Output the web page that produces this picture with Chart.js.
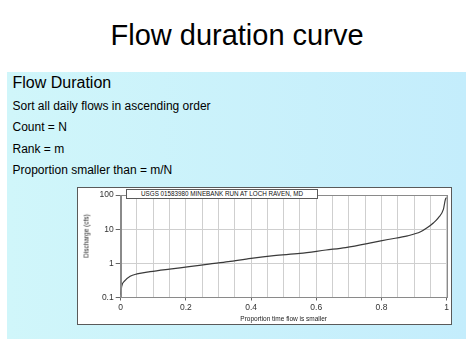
<!DOCTYPE html>
<html>
<head>
<meta charset="utf-8">
<script src="https://cdn.jsdelivr.net/npm/chart.js@4.4.1/dist/chart.umd.min.js"></script>
<style>
  html, body { margin:0; padding:0; background:#ffffff; width:474px; height:355px; overflow:hidden; font-family:"Liberation Sans", Arial, sans-serif; }
  .abs { position:absolute; white-space:nowrap; color:#000; }
  #title { left:0; width:474px; text-align:center; top:21px; font-size:29px; line-height:29px; }
  #panel { position:absolute; left:7px; top:72px; width:459px; height:267px; background:linear-gradient(to right, #d0f6fa, #c4edfc); }
  .t12 { font-size:12px; line-height:12px; left:12.5px; }
  #h16 { font-size:16px; line-height:16px; left:12.5px; top:74.8px; }
  #box { position:absolute; left:77px; top:187px; width:375px; height:138px; box-sizing:border-box; border:1px solid #5a5a5a; background:#fff; }
  #cv { position:absolute; left:0; top:0; }
  #ctitle { position:absolute; left:126px; top:189px; width:192px; height:10px; box-sizing:border-box; border:1px solid #5a5a5a; background:#fff; font-size:6.3px; line-height:8px; text-align:center; color:#111; white-space:nowrap; }
  #ytitle { position:absolute; left:86px; top:235.5px; font-size:6.5px; line-height:7px; color:#222; white-space:nowrap; transform:translate(-50%,-50%) rotate(-90deg); }
</style>
</head>
<body>
<div class="abs" id="title">Flow duration curve</div>
<div id="panel"></div>
<div class="abs" id="h16">Flow Duration</div>
<div class="abs t12" style="top:99.8px">Sort all daily flows in ascending order</div>
<div class="abs t12" style="top:121.4px">Count = N</div>
<div class="abs t12" style="top:142.5px">Rank = m</div>
<div class="abs t12" style="top:163.8px">Proportion smaller than = m/N</div>
<div id="box"><canvas id="cv" width="373" height="136"></canvas></div>
<div id="ctitle">USGS 01583980 MINEBANK RUN AT LOCH RAVEN, MD</div>
<div id="ytitle">Discharge (cfs)</div>
<script>
// Data
const proportion = [0, 0.003, 0.013, 0.029, 0.05, 0.09, 0.15, 0.21, 0.27, 0.33, 0.40, 0.47, 0.55, 0.63, 0.69, 0.775, 0.82, 0.88, 0.92, 0.94, 0.96, 0.975, 0.99, 0.996, 1.0];
const discharge  = [0.12, 0.21, 0.31, 0.42, 0.49, 0.57, 0.68, 0.80, 0.95, 1.12, 1.4, 1.68, 1.96, 2.46, 2.9, 4.1, 5.0, 6.4, 8.4, 11, 15.5, 22, 38, 74, 85];
const yTickValues = [0.1, 1, 10, 100];
const yTickLabels = ['0.1', '1', '10', '100'];
const xTickLabels = ['0', '0.2', '0.4', '0.6', '0.8', '1'];
const xAxisTitle = 'Proportion time flow is smaller';

Chart.defaults.font.family = '"Liberation Sans", Arial, sans-serif';
Chart.defaults.color = '#333';

const points = proportion.map((p, i) => ({ x: p, y: discharge[i] }));
const isMajorX = v => Math.abs(v * 5 - Math.round(v * 5)) < 1e-6;

const frame = {
  id: 'frame',
  afterDatasetsDraw(chart) {
    const a = chart.chartArea, c = chart.ctx;
    c.save();
    c.strokeStyle = '#8a8a8a';
    c.lineWidth = 1;
    c.strokeRect(Math.round(a.left) + 0.5, Math.round(a.top) + 0.5, Math.round(a.right - a.left), Math.round(a.bottom - a.top));
    c.restore();
  }
};

new Chart(document.getElementById('cv'), {
  type: 'line',
  data: { datasets: [{ data: points, borderColor: '#3a3a3a', borderWidth: 1.2, pointRadius: 0, fill: false, cubicInterpolationMode: 'monotone' }] },
  options: {
    responsive: false, animation: false, devicePixelRatio: 1,
    layout: { padding: { top: 6, right: 4, left: 0, bottom: 0 } },
    plugins: { legend: { display: false }, tooltip: { enabled: false } },
    scales: {
      x: {
        type: 'linear', min: 0, max: 1,
        afterFit(s) { s.height = 26.5; },
        ticks: {
          stepSize: 0.05, autoSkip: false, maxRotation: 0, padding: 2,
          font: { size: 8.5 }, color: '#333',
          callback: v => isMajorX(v) ? xTickLabels[Math.round(v * 5)] : ''
        },
        grid: {
          color: '#cfcfcf', lineWidth: 1, tickLength: 3,
          tickColor: ctx => isMajorX(ctx.tick.value) ? '#666' : 'rgba(0,0,0,0)'
        },
        border: { display: true, color: '#8a8a8a' },
        title: { display: true, text: xAxisTitle, font: { size: 6.5 }, color: '#222', padding: { top: 0, bottom: 1 } }
      },
      y: {
        type: 'logarithmic', min: 0.1, max: 100,
        afterFit(s) { s.width = 42.7; },
        afterBuildTicks(s) { s.ticks = yTickValues.map(v => ({ value: v })); },
        ticks: {
          autoSkip: false, padding: 2, font: { size: 8.5 }, color: '#333',
          callback: (v, i) => yTickLabels[i]
        },
        grid: { color: '#cfcfcf', lineWidth: 1, tickLength: 5, tickColor: '#666' },
        border: { display: true, color: '#8a8a8a' }
      }
    }
  },
  plugins: [frame]
});
</script>
</body>
</html>
